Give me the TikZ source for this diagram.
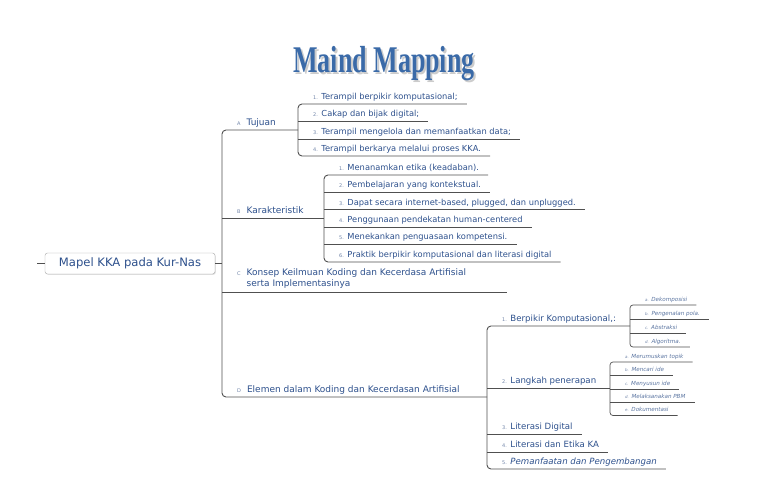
\documentclass[tikz,border=0pt]{standalone}
\usepackage{fontspec}
\setmainfont{DejaVu Sans}
\newfontfamily\titlefont{Liberation Serif}
\usetikzlibrary{calc,shadows}
\definecolor{txt}{HTML}{2D508C}
\definecolor{mkc}{HTML}{7084A8}
\definecolor{ln}{HTML}{505050}
\definecolor{ttl}{HTML}{3A6AA8}
\definecolor{tinyc}{HTML}{5A74A0}
\newcommand\mkA[1]{{\fontsize{5}{5}\selectfont\color{mkc}#1}\hspace{6pt}}
\newcommand\mk[1]{{\fontsize{5}{5}\selectfont\color{mkc}#1}\hspace{3.5pt}}
\newcommand\mkt[1]{{\fontsize{4}{4}\selectfont\color{mkc}#1}\hspace{2.5pt}}
\newcommand\lpad{\hspace*{15pt}}
\newcommand\rpad{\hspace*{9pt}}
\newcommand\ttltext{\scalebox{1}[1.45]{Maind Mapping}}
\begin{document}
\begin{tikzpicture}[x=1pt,y=-1pt,
  base/.style={anchor=south west, inner xsep=0pt, inner ysep=2.5pt, text=txt},
  item/.style={base, text depth=2pt, font=\fontsize{8.3}{10}\selectfont},
  lvone/.style={item, font=\fontsize{9}{10.5}\selectfont},
  lvtwo/.style={item, font=\fontsize{8.6}{10}\selectfont},
  lvthree/.style={base, text=tinyc, text depth=1.5pt, inner ysep=2pt, font=\fontsize{5.6}{6.5}\selectfont\itshape},
  conn/.style={draw=ln, line width=0.9pt},
  spine/.style={conn, rounded corners=4pt},
  thin/.style={draw=ln, line width=0.7pt},
  thinspine/.style={thin, rounded corners=3pt}]
\useasboundingbox (0,0) rectangle (768,503);

% title (with its shadow inside the same text)
\node[anchor=base, text=ttl, font=\titlefont\fontsize{26}{26}\selectfont\bfseries] (title) at (384,72)
  {\makebox[0pt][l]{\hspace{2pt}\raisebox{-2pt}{\color{gray!40}\ttltext}}\ttltext};

% root
\node[draw=gray!70, fill=white, rounded corners=2.5pt, minimum width=170pt, minimum height=21pt, inner sep=0pt, text=txt, font=\fontsize{11.6}{13}\selectfont, drop shadow={shadow xshift=0.8pt, shadow yshift=-0.8pt, opacity=0.25}] (root) at (130,263.5) {Mapel KKA pada Kur-Nas};
\coordinate (lstub) at (37,263.5);

% level 1
\node[lvone] (tujuan) at (222,130) {\lpad\mkA{A}Tujuan};
\node[lvone] (kar) at (222,218) {\lpad\mkA{B}Karakteristik};
\node[base, font=\fontsize{9}{10.5}\selectfont] (konsep) at (222,292) {\lpad\mkA{C}\begin{tabular}[t]{@{}l@{}}Konsep Keilmuan Koding dan Kecerdasa Artifisial\\serta Implementasinya\end{tabular}};
\coordinate (kend) at (507,292);
\node[lvone] (elemen) at (222,397) {\lpad\mkA{D}Elemen dalam Koding dan Kecerdasan Artifisial};

% Tujuan children
\node[item] (t1) at (298,104) {\lpad\mk{1.}Terampil berpikir komputasional;\rpad};
\node[item] (t2) at (298,121.5) {\lpad\mk{2.}Cakap dan bijak digital;\rpad};
\node[item] (t3) at (298,139) {\lpad\mk{3.}Terampil mengelola dan memanfaatkan data;\rpad};
\node[item] (t4) at (298,156) {\lpad\mk{4.}Terampil berkarya melalui proses KKA.\rpad};

% Karakteristik children
\node[item] (k1) at (324,175) {\lpad\mk{1.}Menanamkan etika (keadaban).\rpad};
\node[item] (k2) at (324,192.4) {\lpad\mk{2.}Pembelajaran yang kontekstual.\rpad};
\node[item] (k3) at (324,209.8) {\lpad\mk{3.}Dapat secara internet-based, plugged, dan unplugged.\rpad};
\node[item] (k4) at (324,227.2) {\lpad\mk{4.}Penggunaan pendekatan human-centered\rpad};
\node[item] (k5) at (324,244.6) {\lpad\mk{5.}Menekankan penguasaan kompetensi.\rpad};
\node[item] (k6) at (324,262) {\lpad\mk{6.}Praktik berpikir komputasional dan literasi digital\rpad};

% Elemen children
\node[lvtwo] (e1) at (487,326) {\lpad\mk{1.}Berpikir Komputasional,:};
\node[lvtwo] (e2) at (487,388) {\lpad\mk{2.}Langkah penerapan};
\node[lvtwo] (e3) at (487,434) {\lpad\mk{3.}Literasi Digital\rpad};
\node[lvtwo] (e4) at (487,452) {\lpad\mk{4.}Literasi dan Etika KA\rpad};
\node[lvtwo] (e5) at (487,469) {\lpad\mk{5.}\textit{Pemanfaatan dan Pengembangan}\rpad};

% Berpikir children
\node[lvthree] (b1) at (630,305) {\lpad\mkt{a.}Dekomposisi\rpad};
\node[lvthree] (b2) at (630,319) {\lpad\mkt{b.}Pengenalan pola.\rpad};
\node[lvthree] (b3) at (630,333) {\lpad\mkt{c.}Abstraksi\rpad};
\node[lvthree] (b4) at (630,347) {\lpad\mkt{d.}Algoritma.\rpad};

% Langkah children
\node[lvthree] (l1) at (610,362) {\lpad\mkt{a.}Merumuskan topik\rpad};
\node[lvthree] (l2) at (610,375.5) {\lpad\mkt{b.}Mencari ide\rpad};
\node[lvthree] (l3) at (610,389) {\lpad\mkt{c.}Menyusun ide\rpad};
\node[lvthree] (l4) at (610,402) {\lpad\mkt{d.}Melaksanakan PBM\rpad};
\node[lvthree] (l5) at (610,415.5) {\lpad\mkt{e.}Dokumentasi\rpad};

% connectors
\draw[conn] (lstub) -- (root.west);
\draw[conn] (root.east) -- (root.east -| tujuan.south west);
\draw[spine] (tujuan.south west -| t1.south west) -- (tujuan.south west) -- (elemen.south west) -- (elemen.south west -| e1.south west);
\draw[conn] (kar.south west) -- (kar.south west -| k1.south west);
\draw[conn] (konsep.south west) -- (kend);

\draw[spine] (t1.south east) -- (t1.south west) -- (t4.south west) -- (t4.south east);
\foreach \n in {t2,t3} \draw[conn] (\n.south west) -- (\n.south east);

\draw[spine] (k1.south east) -- (k1.south west) -- (k6.south west) -- (k6.south east);
\foreach \n in {k2,k3,k4,k5} \draw[conn] (\n.south west) -- (\n.south east);

\draw[spine] (e1.south west -| b1.south west) -- (e1.south west) -- (e5.south west) -- (e5.south east);
\draw[conn] (e2.south west) -- (e2.south west -| l1.south west);
\foreach \n in {e3,e4} \draw[conn] (\n.south west) -- (\n.south east);

\draw[thinspine] (b1.south east) -- (b1.south west) -- (b4.south west) -- (b4.south east);
\foreach \n in {b2,b3} \draw[thin] (\n.south west) -- (\n.south east);

\draw[thinspine] (l1.south east) -- (l1.south west) -- (l5.south west) -- (l5.south east);
\foreach \n in {l2,l3,l4} \draw[thin] (\n.south west) -- (\n.south east);
\end{tikzpicture}
\end{document}
